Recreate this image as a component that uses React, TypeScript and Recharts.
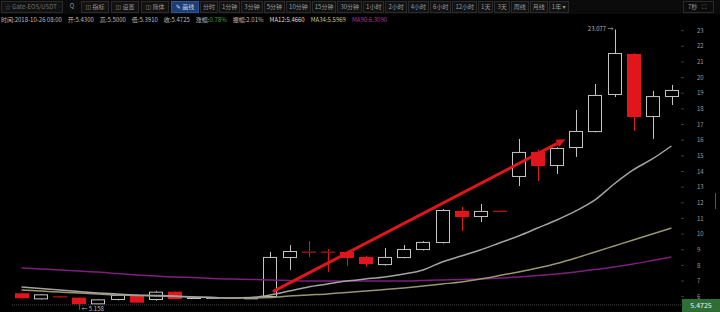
import React from 'react';
import { ComposedChart, Bar, Line, XAxis, YAxis, ReferenceLine } from 'recharts';

// candle values (index 0 = leftmost)
const opens = [6.22, 5.83, 6.02, 5.94, 5.51, 5.79, 6.06, 5.79, 6.32, 5.94, 5.94, 5.92, 5.9, 5.98, 8.47, 8.88, 8.88, 8.86, 8.54, 8.02, 8.47, 8.98, 9.43, 11.48, 11.09, 11.49, 13.65, 15.25, 14.35, 15.5, 16.52, 18.89, 21.51, 17.48, 18.76];
const closes = [5.9, 6.15, 5.99, 5.53, 5.83, 6.11, 5.62, 6.32, 5.85, 5.95, 5.96, 5.89, 5.93, 8.54, 8.92, 8.84, 8.84, 8.47, 8.09, 8.54, 9.05, 9.5, 11.54, 11.09, 11.48, 11.46, 15.25, 14.35, 15.5, 16.59, 18.89, 21.57, 17.48, 18.82, 19.21];
const highs = [6.25, 6.18, 6.05, 5.97, 5.86, 6.14, 6.1, 6.38, 6.36, 5.97, 5.98, 5.94, 5.95, 8.86, 9.3, 9.56, 9.05, 8.92, 8.6, 9.11, 9.3, 9.55, 11.6, 11.73, 11.92, 11.5, 16.08, 15.4, 15.55, 17.93, 19.59, 23.077, 21.55, 19.15, 19.53];
const lows = [5.87, 5.8, 5.97, 5.158, 5.48, 5.76, 5.58, 5.74, 5.82, 5.92, 5.92, 5.87, 5.88, 5.95, 7.71, 8.54, 7.59, 7.96, 7.9, 7.98, 8.45, 8.95, 9.4, 10.2, 10.77, 11.44, 13.07, 13.39, 13.84, 14.93, 16.5, 18.76, 16.59, 16.08, 18.25];

const ma12 = [6.62, 6.52, 6.43, 6.33, 6.24, 6.17, 6.11, 6.08, 6.04, 5.98, 5.95, 5.92, 5.95, 6.11, 6.36, 6.62, 6.81, 7.0, 7.13, 7.26, 7.45, 7.71, 8.22, 8.6, 8.98, 9.43, 9.88, 10.39, 10.9, 11.48, 12.18, 13.2, 14.1, 14.8, 15.63];
const ma34 = [6.43, 6.36, 6.3, 6.24, 6.17, 6.11, 6.08, 6.04, 6.01, 5.98, 5.95, 5.92, 5.92, 5.95, 6.04, 6.11, 6.17, 6.27, 6.36, 6.46, 6.56, 6.68, 6.81, 6.94, 7.13, 7.35, 7.58, 7.83, 8.12, 8.47, 8.86, 9.24, 9.62, 10.01, 10.39];
const ma90 = [7.83, 7.77, 7.71, 7.64, 7.58, 7.48, 7.39, 7.32, 7.26, 7.23, 7.16, 7.13, 7.1, 7.07, 7.04, 7.0, 7.0, 7.0, 7.0, 7.0, 7.0, 7.04, 7.07, 7.1, 7.13, 7.19, 7.26, 7.35, 7.45, 7.58, 7.74, 7.9, 8.09, 8.31, 8.54];

const yTicks = [6, 7, 8, 9, 10, 11, 12, 13, 14, 15, 16, 17, 18, 19, 20, 21, 22, 23];
const lastPrice = 5.4725;
const highMark = { i: 31, text: '23.077 →' };
const lowMark = { i: 3, text: '← 5.158' };
const arrowFrom = { x: 13.15, y: 6.32 };
const arrowTo = { x: 28.45, y: 16.06 };

const toolLeft = ['指标', '设置', '简体'];
const periods = ['分时', '1分钟', '3分钟', '5分钟', '10分钟', '15分钟', '30分钟', '1小时', '2小时', '4小时', '6小时', '12小时', '1天', '3天', '周线', '月线', '1年 ▾'];
const infoItems = [
  { t: '时间:2018-10-26 08:00', c: '#bdbdbd' },
  { t: '开:5.4300', c: '#bdbdbd' },
  { t: '高:5.5000', c: '#bdbdbd' },
  { t: '低:5.3910', c: '#bdbdbd' },
  { t: '收:5.4725', c: '#bdbdbd' },
  { t: '涨幅:', c: '#bdbdbd', v: '0.78%', vc: '#3fa34d' },
  { t: '振幅:2.01%', c: '#bdbdbd' },
  { t: 'MA12:5.4660', c: '#d8d8d8' },
  { t: 'MA34:5.5969', c: '#d2c27c' },
  { t: 'MA90:6.3090', c: '#a33aa3' },
];

const data = opens.map((o, i) => ({
  i,
  o,
  c: closes[i],
  h: highs[i],
  l: lows[i],
  range: [lows[i], highs[i]],
  ma12: ma12[i],
  ma34: ma34[i],
  ma90: ma90[i],
}));

const UP = '#c4c4c4';
const DOWN = '#e0161c';

function Candle(props: any) {
  const { x, y, width, height, payload, index } = props;
  const { o, c, h, l } = payload;
  const top = Math.min(y, y + height);
  const bot = Math.max(y, y + height);
  const span = h - l;
  const py = (v: number) => (span === 0 ? top : top + ((h - v) / span) * (bot - top));
  const up = c >= o;
  const col = up ? UP : DOWN;
  const cx = Math.round(x + width / 2) + 0.5;
  const bTop = py(Math.max(o, c));
  const bh = Math.max(py(Math.min(o, c)) - bTop, 1);
  const bx = Math.round(x);
  return (
    <g>
      <line x1={cx} x2={cx} y1={top} y2={bTop} stroke={col} strokeWidth={1} />
      <line x1={cx} x2={cx} y1={bTop + bh} y2={bot} stroke={col} strokeWidth={1} />
      {up ? (
        <rect x={bx + 0.5} y={bTop + 0.5} width={width - 1} height={Math.max(bh - 1, 0.5)} fill="#000" stroke={col} strokeWidth={1} />
      ) : (
        <rect x={bx} y={bTop} width={width} height={bh} fill={col} />
      )}
      {index === highMark.i && (
        <text x={cx - 2} y={top + 2} textAnchor="end" fontSize={6} fill="#bbb">{highMark.text}</text>
      )}
      {index === lowMark.i && (
        <text x={cx + 2} y={bot + 1} fontSize={6} fill="#bbb">{lowMark.text}</text>
      )}
    </g>
  );
}

function Arrow(props: any) {
  const { x1, y1, x2, y2 } = props;
  const ang = Math.atan2(y2 - y1, x2 - x1);
  const len = 9;
  const hw = 4;
  const bx = x2 - Math.cos(ang) * len;
  const by = y2 - Math.sin(ang) * len;
  const nx = -Math.sin(ang) * hw;
  const ny = Math.cos(ang) * hw;
  return (
    <g>
      <line x1={x1} y1={y1} x2={bx} y2={by} stroke={DOWN} strokeWidth={3} />
      <polygon points={`${x2},${y2} ${bx + nx},${by + ny} ${bx - nx},${by - ny}`} fill={DOWN} />
    </g>
  );
}

function PriceTag(props: any) {
  const vb = props.viewBox || {};
  const yy = vb.y ?? 305;
  return (
    <g>
      <rect x={682} y={yy - 6} width={38} height={13} fill="#2f6e35" />
      <text x={701} y={yy + 3} textAnchor="middle" fontSize={7} fill="#f0f0f0">{lastPrice.toFixed(4)}</text>
    </g>
  );
}

const btn: React.CSSProperties = {
  boxSizing: 'border-box',
  border: '1px solid #2a2a2a',
  background: '#121212',
  color: '#9a9a9a',
  height: 12,
  lineHeight: '10px',
  padding: '0 2px',
  marginRight: 1,
  fontSize: 6,
  whiteSpace: 'nowrap',
  textAlign: 'center',
};

export default function App() {
  return (
    <div
      style={{
        position: 'absolute',
        left: 0,
        top: 0,
        width: 720,
        height: 312,
        background: '#000',
        overflow: 'hidden',
        fontFamily: '"Noto Sans CJK SC", "DejaVu Sans", sans-serif',
      }}
    >
      <ComposedChart
        width={720}
        height={312}
        data={data}
        margin={{ top: 24, right: 0, bottom: 0, left: 12 }}
        style={{ position: 'absolute', left: 0, top: 0 }}
      >
        <XAxis dataKey="i" type="number" domain={[-0.5, 34.5]} hide allowDataOverflow />
        <YAxis
          orientation="right"
          width={39}
          type="number"
          domain={[5.022, 23.425]}
          allowDataOverflow
          ticks={yTicks}
          interval={0}
          axisLine={false}
          tickLine={{ stroke: '#3a3a3a' }}
          tickSize={3}
          tickMargin={13}
          tick={{ fill: '#9a9a9a', fontSize: 6 }}
        />
        <ReferenceLine y={lastPrice} stroke="#4a4a4a" strokeDasharray="1 1" label={<PriceTag />} ifOverflow="visible" />
        <Bar dataKey="range" barSize={14} shape={<Candle />} isAnimationActive={false} />
        <Line dataKey="ma90" type="monotone" stroke="#7d1f7d" strokeWidth={1.5} dot={false} isAnimationActive={false} />
        <Line dataKey="ma34" type="monotone" stroke="#9a9670" strokeWidth={1.5} dot={false} isAnimationActive={false} />
        <Line dataKey="ma12" type="monotone" stroke="#a3a3a3" strokeWidth={1.5} dot={false} isAnimationActive={false} />
        <ReferenceLine segment={[arrowFrom, arrowTo]} shape={(p: any) => <Arrow {...p} />} ifOverflow="visible" />
      </ComposedChart>

      {/* toolbar */}
      <div style={{ position: 'absolute', left: 0, top: 0, width: 720, height: 14, background: '#0b0b0b', display: 'flex', alignItems: 'center', paddingLeft: 1 }}>
        <div style={{ ...btn, width: 62, color: '#6f6f6f', textAlign: 'left', paddingLeft: 3 }}>☆ Gate-EOS/USDT</div>
        <div style={{ ...btn, border: 'none', background: 'transparent', width: 16 }}>Q</div>
        {toolLeft.map((t) => (
          <div key={t} style={{ ...btn, width: 28, marginRight: 2 }}>◫ {t}</div>
        ))}
        <div style={{ ...btn, width: 28, background: '#1d3e72', borderColor: '#2b5596', color: '#c8d6f0' }}>✎ 画线</div>
        {periods.map((t) => (
          <div key={t} style={btn}>{t}</div>
        ))}
        <div style={{ position: 'absolute', left: 683, top: 1, width: 31, height: 12, boxSizing: 'border-box', border: '1px solid #2a2a2a', color: '#9a9a9a', fontSize: 6, lineHeight: '10px' }}>
          <span style={{ marginLeft: 4 }}>7秒</span>
          <span style={{ marginLeft: 5 }}>⛶</span>
        </div>
      </div>

      {/* info line */}
      <div style={{ position: 'absolute', left: 1, top: 15, height: 9, display: 'flex', fontSize: 6, lineHeight: '9px', whiteSpace: 'nowrap' }}>
        {infoItems.map((it) => (
          <span key={it.t} style={{ color: it.c, marginRight: 6 }}>
            {it.t}
            {it.v && <span style={{ color: it.vc }}>{it.v}</span>}
          </span>
        ))}
      </div>

      <div style={{ position: 'absolute', left: 715, top: 193, width: 1, height: 16, background: '#555' }} />
    </div>
  );
}
